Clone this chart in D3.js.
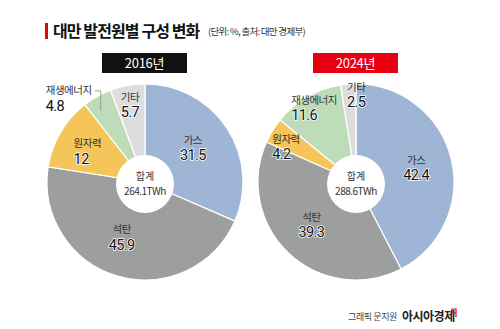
<!DOCTYPE html>
<html><head><meta charset="utf-8">
<script src="https://cdn.jsdelivr.net/npm/d3@7"></script>
<style>
html,body{margin:0;padding:0;background:#fff;}
svg{display:block;font-family:"Noto Sans CJK KR","Noto Sans",sans-serif;}
</style></head><body>
<svg id="c" width="500" height="329"></svg>
<script>
const categories = ["가스","석탄","원자력","재생에너지","기타"];
const values2016 = [31.5, 45.9, 12, 4.8, 5.7];
const values2024 = [42.4, 39.3, 4.2, 11.6, 2.5];
const years = ["2016년","2024년"];
const totals = ["264.1TWh","288.6TWh"];
const titleText = "대만 발전원별 구성 변화";
const subtitleText = "(단위: %, 출처: 대만 경제부)";

const colors = {"가스":"#9fb5d5","석탄":"#9d9e9e","원자력":"#f5c559","재생에너지":"#bedcb8","기타":"#dddddd"};

const svg = d3.select("#c");

// Header
svg.append("rect").attr("x",45).attr("y",23).attr("width",3).attr("height",16).attr("fill","#e50012");
svg.append("text").attr("x",53).attr("y",37).attr("font-size",16).attr("font-weight",700)
  .attr("fill","#111").attr("letter-spacing",-0.9).text(titleText);
svg.append("text").attr("x",208).attr("y",35).attr("font-size",9.5).attr("fill","#333")
  .attr("letter-spacing",-0.7).text(subtitleText);

const charts = [
  {values: values2016, year: years[0], total: totals[0], cx:145, cy:182, badge:"#111",
   offsets: [[-4,0,"middle"],[-6,-4,"middle"],[-18,1,"start"],[-69,-29,"start"],[-4,-16,"middle"]], leader:true},
  {values: values2024, year: years[1], total: totals[1], cx:356, cy:182, badge:"#e60012",
   offsets: [[0,1,"middle"],[-2,-2,"middle"],[-31,-2,"start"],[-34,-20,"start"],[5,-25,"middle"]], leader:false}
];

const R = 98;
const pie = d3.pie().sort(null).value(d => d.v);
const arc = d3.arc().innerRadius(0).outerRadius(R);
const labelArc = d3.arc().innerRadius(62).outerRadius(62);

charts.forEach(ch => {
  const data = categories.map((c,i) => ({c, v: ch.values[i]}));
  const arcs = pie(data);
  const g = svg.append("g").attr("transform",`translate(${ch.cx},${ch.cy})`);
  g.selectAll("path.s").data(arcs).join("path").attr("class","s")
    .attr("d",arc).attr("fill",d=>colors[d.data.c]).attr("stroke","#fff").attr("stroke-width",1.2);
  // center circle
  g.append("circle").attr("cx",0).attr("cy",2).attr("r",29).attr("fill","#fff");
  g.append("text").attr("x",0).attr("y",-2).attr("text-anchor","middle").attr("font-size",10)
    .attr("fill","#333").text("합계");
  g.append("text").attr("x",0).attr("y",13).attr("text-anchor","middle").attr("font-size",10)
    .attr("fill","#333").attr("letter-spacing",-0.5).text(ch.total);

  // labels
  arcs.forEach((a,i) => {
    const [x,y] = labelArc.centroid(a);
    const [dx,dy,anchor] = ch.offsets[i];
    const lx = x+dx, ly = y+dy;
    g.append("text").attr("x",lx).attr("y",ly-4.5).attr("text-anchor",anchor)
      .attr("font-size",10.5).attr("fill","#333").attr("letter-spacing",-0.5).text(a.data.c);
    g.append("text").attr("x",lx).attr("y",ly+12).attr("text-anchor",anchor)
      .attr("font-family","Roboto, 'Liberation Sans', sans-serif")
      .attr("font-size",14.5).attr("fill","#111").attr("letter-spacing",-0.6)
      .attr("stroke","#fff").attr("stroke-width",1.5).attr("paint-order","stroke")
      .text(a.data.v);
    if (ch.leader && a.data.c === "재생에너지") {
      g.append("path").attr("d",`M${lx+49},${ly-8}H${lx+55}V${ly+12}`)
        .attr("fill","none").attr("stroke","#888").attr("stroke-width",0.8);
    }
  });

  // year badge
  svg.append("rect").attr("x",ch.cx-43).attr("y",53).attr("width",85).attr("height",20).attr("fill",ch.badge);
  svg.append("text").attr("x",ch.cx-0.5).attr("y",68).attr("text-anchor","middle").attr("font-size",13)
    .attr("fill","#fff").attr("letter-spacing",-0.3).text(ch.year);
});

// Footer
svg.append("text").attr("x",397).attr("y",320).attr("text-anchor","end").attr("font-size",9)
  .attr("fill","#444").attr("letter-spacing",-0.4).text("그래픽 문지원");
svg.append("text").attr("x",402).attr("y",321).attr("font-size",12).attr("font-weight",700)
  .attr("fill","#222").attr("letter-spacing",-0.5).text("아시아경제");
svg.append("path").attr("d","M452,309h4v4h-4zM456,313v4").attr("fill","none").attr("stroke","#e60012").attr("stroke-width",1.2);
</script>
</body></html>
